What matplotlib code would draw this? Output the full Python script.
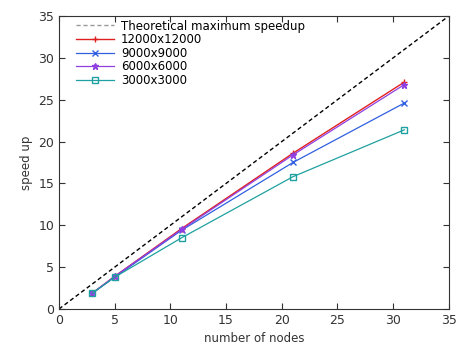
import matplotlib
matplotlib.use('Agg')
import matplotlib.pyplot as plt

nodes = [3, 5, 11, 21, 31]
s12000 = [1.9, 3.9, 9.6, 18.6, 27.1]
s9000 = [1.9, 3.8, 9.4, 17.5, 24.6]
s6000 = [1.9, 3.9, 9.5, 18.4, 26.8]
s3000 = [1.9, 3.8, 8.5, 15.8, 21.4]
ideal = [0, 35]

fig = plt.figure(figsize=(4.74, 3.55), dpi=100)
ax = fig.add_axes([0.1245, 0.1296, 0.8225, 0.8254])

ax.plot(ideal, ideal, color='black', linestyle='--', dashes=(3, 2), linewidth=1.0,
        label='Theoretical maximum speedup')
ax.plot(nodes, s12000, color='#e02020', marker='+', markersize=5, linewidth=1.0, label='12000x12000')
ax.plot(nodes, s9000, color='#3060e0', marker='x', markersize=4, linewidth=0.9, label='9000x9000')
ax.plot(nodes, s6000, color='#9040e0', marker='*', markersize=5, linewidth=0.9, label='6000x6000')
ax.plot(nodes, s3000, color='#20a0a0', marker='s', markersize=4, markerfacecolor='none',
        linewidth=0.9, label='3000x3000')

ax.set_xlim(0, 35)
ax.set_ylim(0, 35)
ax.set_xticks(range(0, 36, 5))
ax.set_yticks(range(0, 36, 5))
ax.tick_params(direction='in', top=True, right=True, labelsize=9, colors='#333333', length=4)
for sp in ax.spines.values():
    sp.set_color('#333333')
ax.set_xlabel('number of nodes', fontsize=8.5, color='#333333')
ax.set_ylabel('speed up', fontsize=8.5, color='#333333')

leg = ax.legend(loc='upper left', bbox_to_anchor=(0.035, 1.0), frameon=False, fontsize=8.5,
                handlelength=3.2, labelspacing=0.05, borderaxespad=0.1, handletextpad=0.6,
                borderpad=0.2)
leg.get_lines()[0].set_color('#999999')

plt.savefig('out.png', dpi=100)
